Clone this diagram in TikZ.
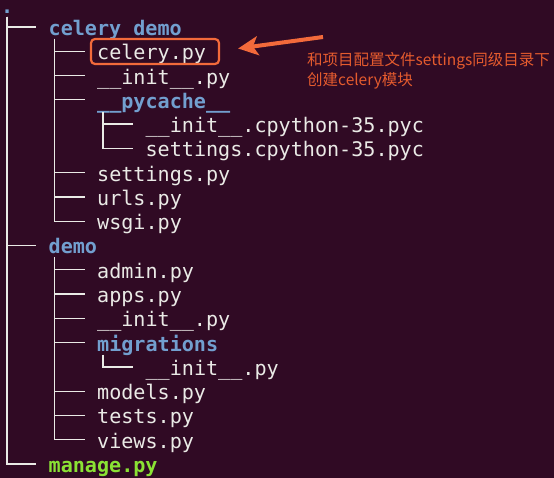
\documentclass[tikz,border=0pt]{standalone}
\usepackage{fontspec}
\usepackage{tikz}
\usetikzlibrary{arrows.meta}
\newfontfamily\termfont{DejaVu Sans Mono}
\newfontfamily\cjk{Noto Sans CJK SC}
\definecolor{termbg}{HTML}{300A24}
\definecolor{termfg}{HTML}{EAEAE6}
\definecolor{termblue}{HTML}{729FCF}
\definecolor{termgreen}{HTML}{8AE234}
\definecolor{hlorange}{HTML}{F26A3B}
\definecolor{notered}{HTML}{E55B2E}

\begin{document}
\begin{tikzpicture}[x=1pt,y=-1pt,
  file/.style={anchor=base west,inner sep=0pt,text=termfg,font=\termfont\fontsize{20.1}{24}\selectfont},
  dir/.style={file,text=termblue,font=\termfont\bfseries\fontsize{20.1}{24}\selectfont},
  exe/.style={file,text=termgreen,font=\termfont\bfseries\fontsize{20.1}{24}\selectfont},
  tree/.style={draw=termfg,line width=1.3pt},
  callout/.style={draw=hlorange,line width=2.2pt,rounded corners=4pt,inner sep=0pt},
  pointer/.style={draw=hlorange,line width=4pt,-{Stealth[length=20pt,width=19pt,inset=5pt]}},
  note/.style={anchor=north west,inner sep=0pt,align=left,text=notered,font=\cjk\fontsize{15.5}{20.5}\selectfont}]
  \def\cw{12.12}
  \def\rh{24.28}
  \def\yo{11.2}
  \fill[termbg] (0,0) rectangle (554,478);
  \useasboundingbox (0,0) rectangle (554,478);

  % tree entries
  \node[dir,text height=4pt,text depth=0pt] (root) at (1,{\yo+2}) {.};
  \node[dir]  (celerydemo) at ({4*\cw},{\yo+1*\rh}) {celery demo};
  \node[file] (celerypy)   at ({8*\cw},{\yo+2*\rh}) {celery.py};
  \node[file] (initA)      at ({8*\cw},{\yo+3*\rh}) {\_\_init\_\_.py};
  \node[dir]  (pycache)    at ({8*\cw},{\yo+4*\rh}) {\_\_pycache\_\_};
  \node[file] (initpyc)    at ({12*\cw},{\yo+5*\rh}) {\_\_init\_\_.cpython-35.pyc};
  \node[file] (settingspyc) at ({12*\cw},{\yo+6*\rh}) {settings.cpython-35.pyc};
  \node[file] (settings)   at ({8*\cw},{\yo+7*\rh}) {settings.py};
  \node[file] (urls)       at ({8*\cw},{\yo+8*\rh}) {urls.py};
  \node[file] (wsgi)       at ({8*\cw},{\yo+9*\rh}) {wsgi.py};
  \node[dir]  (demo)       at ({4*\cw},{\yo+10*\rh}) {demo};
  \node[file] (admin)      at ({8*\cw},{\yo+11*\rh}) {admin.py};
  \node[file] (apps)       at ({8*\cw},{\yo+12*\rh}) {apps.py};
  \node[file] (initB)      at ({8*\cw},{\yo+13*\rh}) {\_\_init\_\_.py};
  \node[dir]  (migrations) at ({8*\cw},{\yo+14*\rh}) {migrations};
  \node[file] (initC)      at ({12*\cw},{\yo+15*\rh}) {\_\_init\_\_.py};
  \node[file] (models)     at ({8*\cw},{\yo+16*\rh}) {models.py};
  \node[file] (tests)      at ({8*\cw},{\yo+17*\rh}) {tests.py};
  \node[file] (views)      at ({8*\cw},{\yo+18*\rh}) {views.py};
  \node[exe]  (manage)     at ({4*\cw},{\yo+19*\rh}) {manage.py};

  % branches, parent -> child
  \foreach \p/\c in {root/celerydemo,root/demo,root/manage,
      celerydemo/celerypy,celerydemo/initA,celerydemo/pycache,celerydemo/settings,celerydemo/urls,celerydemo/wsgi,
      pycache/initpyc,pycache/settingspyc,
      demo/admin,demo/apps,demo/initB,demo/migrations,demo/models,demo/tests,demo/views,
      migrations/initC}
    \draw[tree] ([shift={(6,3.5)}]\p.base west) |- ([shift={(-12.1,-8.5)}]\c.base west);

  % highlight and note
  \node[callout,minimum width=128pt,minimum height=25pt] (box) at (155,51.5) {};
  \coordinate (tail) at (323,37);
  \draw[pointer] (tail) -- ([shift={(18,-3)}]box.east);
  \node[note] (note) at (307,52) {和项目配置文件settings同级目录下\\创建celery模块};
\end{tikzpicture}
\end{document}
